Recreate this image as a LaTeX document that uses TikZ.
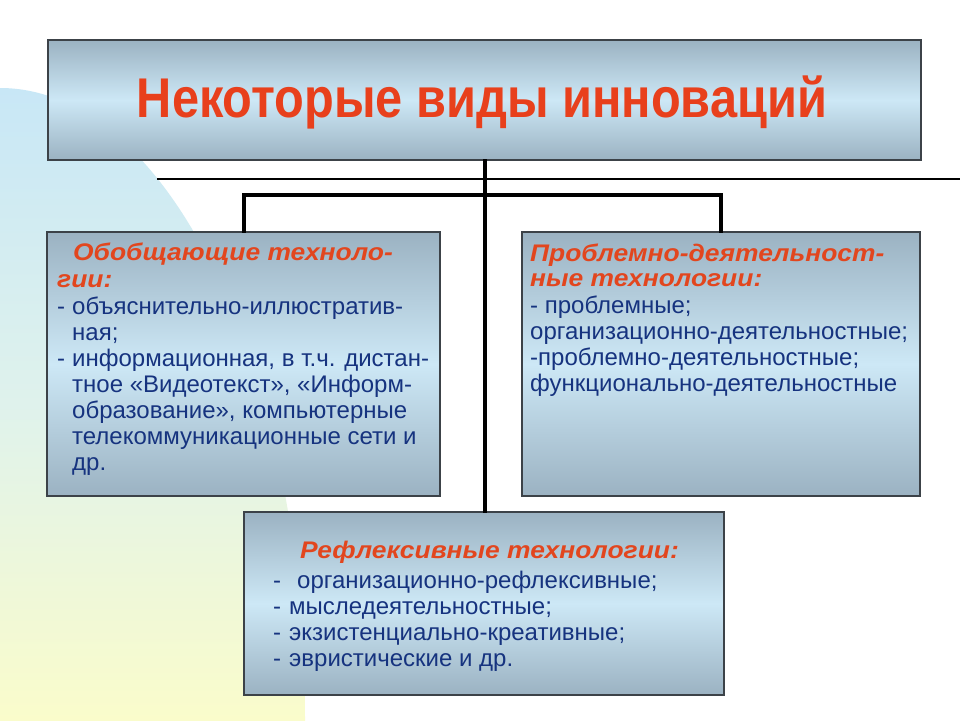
\documentclass[tikz,border=0pt]{standalone}
\usepackage{fontspec}
\setmainfont{Liberation Sans}
\definecolor{titlered}{HTML}{E8401C}
\definecolor{headred}{HTML}{E2461E}
\definecolor{txtblue}{HTML}{16337F}
\definecolor{boxedge}{HTML}{3C4248}
\definecolor{boxdark}{HTML}{9BB2C2}
\definecolor{boxlight}{HTML}{CDE8F6}
\definecolor{bgtop}{HTML}{C8E7F6}
\definecolor{bgmid}{HTML}{DFF2EC}
\definecolor{bgbot}{HTML}{FAFCCB}
\newcommand{\hdx}[1]{\scalebox{1.1}[1]{#1}}
\tikzset{
  panel/.style={draw=boxedge, line width=1.5pt, top color=boxdark, bottom color=boxdark, middle color=boxlight, shading angle=0, rectangle, inner sep=0pt},
  conn/.style={line width=4pt, line cap=rect},
  thinline/.style={line width=1.4pt},
  head/.style={anchor=base west, inner sep=0pt, text=headred, font=\fontsize{24}{26}\selectfont\bfseries\itshape},
  item/.style={anchor=base west, inner sep=0pt, text=txtblue, font=\fontsize{24}{26}\selectfont},
}
\begin{document}
\begin{tikzpicture}[x=1pt,y=-1pt]
\useasboundingbox (0,0) rectangle (960,720);
\fill[white] (0,0) rectangle (960,720);
% background ellipse
\begin{scope}
  \clip (0,720) ellipse [x radius=305, y radius=632];
  \shade[top color=bgtop, bottom color=bgbot, middle color=bgmid] (0,88) rectangle (310,720);
\end{scope}
% thin line
\coordinate (tlA) at (157,179);
\coordinate (tlB) at (960,179);
\draw[thinline] (tlA) -- (tlB);
% boxes
\node[panel, minimum width=873, minimum height=120] (title) at (484.5,100) {};
\node[panel, minimum width=393, minimum height=264] (boxL) at (243.5,364) {};
\node[panel, minimum width=398, minimum height=264] (boxR) at (721,364) {};
\node[panel, minimum width=480, minimum height=183] (boxB) at (484,603.5) {};
% connectors
\draw[conn] (title.south) -- (title.south |- boxB.north);
\draw[conn] (boxL.north) -- ++(0,-36) -| (boxR.north);
% title text
\node[anchor=base, inner sep=0pt, text=titlered, font=\fontsize{56}{60}\selectfont\bfseries] (ttext) at (482,117) {\scalebox{0.87}[1]{Некоторые виды инноваций}};
% left box
\node[head] (L1) at (73,260) {\hdx{Обобщающие техноло-}};
\node[head] (L2) at (57,287) {\hdx{гии:}};
\node[item] (L3) at (57,314) {\makebox[15pt][l]{-}объяснительно-иллюстратив-};
\node[item] (L4) at (72,340) {ная;};
\node[item] (L5) at (57,366) {\makebox[15pt][l]{-}информационная, в т.ч. дистан-};
\node[item] (L6) at (72,392) {тное «Видеотекст», «Информ-};
\node[item] (L7) at (72,418) {образование», компьютерные};
\node[item] (L8) at (72,444) {телекоммуникационные сети и};
\node[item] (L9) at (72,470) {др.};
% right box
\node[head] (R1) at (530,261) {\hdx{Проблемно-деятельност-}};
\node[head] (R2) at (530,286) {\hdx{ные технологии:}};
\node[item] (R3) at (530,313) {- проблемные;};
\node[item] (R4) at (530,339) {организационно-деятельностные;};
\node[item] (R5) at (530,365) {-проблемно-деятельностные;};
\node[item] (R6) at (530,391) {функционально-деятельностные};
% bottom box
\node[head] (B1) at (300,558) {\hdx{Рефлексивные технологии:}};
\node[item] (B2) at (273,588) {\makebox[24pt][l]{-}организационно-рефлексивные;};
\node[item] (B3) at (273,614) {\makebox[16pt][l]{-}мыследеятельностные;};
\node[item] (B4) at (273,640) {\makebox[16pt][l]{-}экзистенциально-креативные;};
\node[item] (B5) at (273,666) {\makebox[16pt][l]{-}эвристические и др.};
\end{tikzpicture}
\end{document}
